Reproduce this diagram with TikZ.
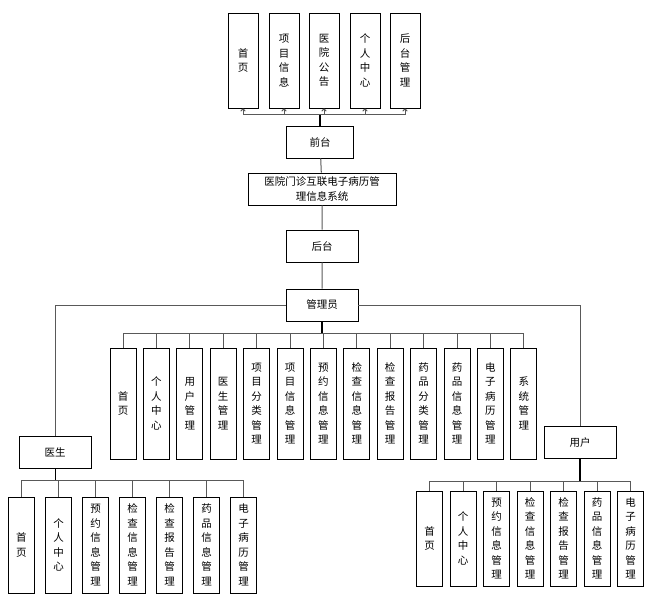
\documentclass[tikz,border=0pt]{standalone}
\usepackage{fontspec}
\usetikzlibrary{arrows.meta}
\newfontfamily\cjk{Noto Sans CJK SC}
\begin{document}
\begin{tikzpicture}[x=1pt,y=-1pt,
    every node/.style={font=\cjk\fontsize{10.5}{14.5}\selectfont},
    hbox/.style={draw,line width=0.8pt,minimum width=72pt,minimum height=32pt,inner sep=1pt},
    vbox/.style={draw,line width=0.8pt,minimum width=26pt,align=center,inner sep=1pt},
    link/.style={draw=black!65,line width=1pt}]
  \useasboundingbox (0,0) rectangle (647,596);

  %%%% top: front end
  \foreach \x/\t [count=\i] in {243/首\\页,284/项\\目\\信\\息,324/医\\院\\公\\告,365/个\\人\\中\\心,405/后\\台\\管\\理}
   {\node[vbox,minimum width=30pt,minimum height=95pt] (f\i) at (\x,60.5) {\t};
    \coordinate (fb\i) at (\x,115);
    \draw[link,-{To[open,length=3pt,width=5pt]}] (fb\i) -- (f\i.south);}
  \draw[link] (fb1) -- (fb5);

  \node[hbox,minimum width=67pt] (front) at (320,142) {前台};
  \node[hbox,minimum width=148pt,align=center] (sys) at (322,189) {医院门诊互联电子病历管\\理信息系统};
  \node[hbox] (back) at (322,246) {后台};
  \node[hbox] (admin) at (322,305) {管理员};
  \draw[link,black,line width=1.5pt] (front.north) -- (front.north|-fb1);
  \draw[link] (front) -- (sys) (sys) -- (back) (back) -- (admin);

  %%%% admin
  \coordinate (ab) at (322,333);
  \draw[link,black,line width=1.5pt] (admin) -- (ab);
  \foreach \t [count=\i] in {首\\页,个\\人\\中\\心,用\\户\\管\\理,医\\生\\管\\理,项\\目\\分\\类\\管\\理,项\\目\\信\\息\\管\\理,预\\约\\信\\息\\管\\理,检\\查\\信\\息\\管\\理,检\\查\\报\\告\\管\\理,药\\品\\分\\类\\管\\理,药\\品\\信\\息\\管\\理,电\\子\\病\\历\\管\\理,系\\统\\管\\理}
   {\pgfmathsetmacro\x{123+(\i-1)*33.4}
    \node[vbox,minimum height=111pt] (a\i) at (\x,403.5) {\t};
    \draw[link] (a\i.north) -- (a\i.north|-ab);}
  \draw[link] (a1.north|-ab) -- (a13.north|-ab);

  %%%% doctor
  \node[hbox] (doc) at (55,452.5) {医生};
  \draw[link] (admin.west) -| (doc.north);
  \coordinate (db) at (55,480);
  \foreach \t [count=\i] in {首\\页,个\\人\\中\\心,预\\约\\信\\息\\管\\理,检\\查\\信\\息\\管\\理,检\\查\\报\\告\\管\\理,药\\品\\信\\息\\管\\理,电\\子\\病\\历\\管\\理}
   {\pgfmathsetmacro\x{21.5+(\i-1)*37}
    \node[vbox,minimum height=96pt] (d\i) at (\x,545) {\t};
    \draw[link] (d\i.north) -- (d\i.north|-db);}
  \draw[link] (d1.north|-db) -- (d7.north|-db);
  \draw[link,black] (doc) -- (db);

  %%%% user
  \node[hbox] (usr) at (580,442.5) {用户};
  \draw[link] (admin.east) -| (usr.north);
  \coordinate (ub) at (580,481);
  \foreach \t [count=\i] in {首\\页,个\\人\\中\\心,预\\约\\信\\息\\管\\理,检\\查\\信\\息\\管\\理,检\\查\\报\\告\\管\\理,药\\品\\信\\息\\管\\理,电\\子\\病\\历\\管\\理}
   {\pgfmathsetmacro\x{429.5+(\i-1)*33.5}
    \node[vbox,minimum height=95pt] (u\i) at (\x,538.5) {\t};
    \draw[link] (u\i.north) -- (u\i.north|-ub);}
  \draw[link] (u1.north|-ub) -- (u7.north|-ub);
  \draw[link,black,line width=1.5pt] (usr) -- (ub);
\end{tikzpicture}
\end{document}
